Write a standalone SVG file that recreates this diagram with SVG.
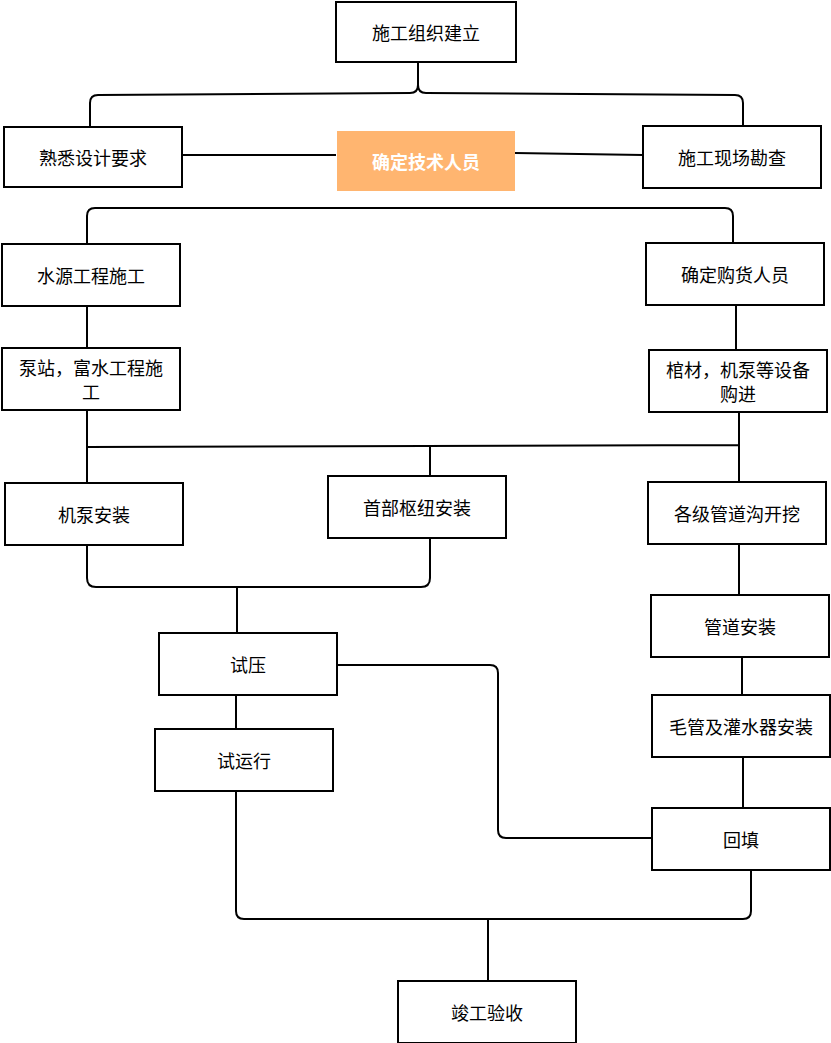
<svg xmlns="http://www.w3.org/2000/svg" width="831" height="1043" viewBox="0 0 831 1043">
<style>
.b{fill:#fff;stroke:#000;stroke-width:2}
.t{font-family:"Noto Sans CJK SC","Liberation Sans",sans-serif;font-size:18px;fill:#000;text-anchor:middle;dominant-baseline:central}
.c{fill:none;stroke:#000;stroke-width:2}
</style>
<rect width="831" height="1043" fill="#fff"/>
<g id="connectors">
<path class="c" d="M418 62 V85 Q418 93 410 93 L98 95 Q90 95 90 103 V127"/>
<path class="c" d="M418 85 Q418 93 426 93 L735 95 Q743 95 743 103 V126"/>
<path class="c" d="M182 155 H336"/>
<path class="c" d="M515 153 L643 155"/>
<path class="c" d="M87 244 V216 Q87 208 95 208 H725 Q733 208 733 216 V243"/>
<path class="c" d="M87 306 V348"/>
<path class="c" d="M736 305 V350"/>
<path class="c" d="M87 410 V483 M87 447 L739 445 M430 446 V476 M739 412 V482"/>
<path class="c" d="M87 545 V578 Q87 587 96 587 H421 Q430 587 430 578 V538"/>
<path class="c" d="M237 587 V633"/>
<path class="c" d="M236 695 V729"/>
<path class="c" d="M739 544 V595 M742 657 V695 M743 757 V808"/>
<path class="c" d="M337 665 H490 Q498 665 498 673 V830 Q498 838 506 838 H652"/>
<path class="c" d="M236 791 V911 Q236 919 244 919 H743 Q751 919 751 911 V870"/>
<path class="c" d="M488 920 V981"/>
</g>
<g id="n1"><rect class="b" x="336" y="2" width="180" height="60"/><text class="t" x="426" y="32">施工组织建立</text></g>
<g id="n2"><rect class="b" x="4" y="127" width="178" height="60"/><text class="t" x="93" y="157">熟悉设计要求</text></g>
<g id="n3"><rect x="337" y="131" width="178" height="60" fill="#FFB570"/><text class="t" x="426" y="161" style="fill:#fff;font-weight:bold">确定技术人员</text></g>
<g id="n4"><rect class="b" x="643" y="126" width="178" height="62"/><text class="t" x="732" y="157">施工现场勘查</text></g>
<g id="n5"><rect class="b" x="2" y="244" width="178" height="62"/><text class="t" x="91" y="275">水源工程施工</text></g>
<g id="n6"><rect class="b" x="646" y="243" width="178" height="62"/><text class="t" x="735" y="274">确定购货人员</text></g>
<g id="n7"><rect class="b" x="2" y="348" width="178" height="62"/><text class="t" x="91" y="367">泵站，富水工程施</text><text class="t" x="91" y="391">工</text></g>
<g id="n8"><rect class="b" x="649" y="350" width="178" height="62"/><text class="t" x="738" y="369">棺材，机泵等设备</text><text class="t" x="738" y="393">购进</text></g>
<g id="n9"><rect class="b" x="5" y="483" width="178" height="62"/><text class="t" x="94" y="514">机泵安装</text></g>
<g id="n10"><rect class="b" x="328" y="476" width="178" height="62"/><text class="t" x="417" y="507">首部枢纽安装</text></g>
<g id="n11"><rect class="b" x="648" y="482" width="178" height="62"/><text class="t" x="737" y="513">各级管道沟开挖</text></g>
<g id="n12"><rect class="b" x="651" y="595" width="178" height="62"/><text class="t" x="740" y="626">管道安装</text></g>
<g id="n13"><rect class="b" x="652" y="695" width="178" height="62"/><text class="t" x="741" y="726">毛管及灌水器安装</text></g>
<g id="n14"><rect class="b" x="159" y="633" width="178" height="62"/><text class="t" x="248" y="664">试压</text></g>
<g id="n15"><rect class="b" x="155" y="729" width="178" height="62"/><text class="t" x="244" y="760">试运行</text></g>
<g id="n16"><rect class="b" x="652" y="808" width="178" height="62"/><text class="t" x="741" y="839">回填</text></g>
<g id="n17"><rect class="b" x="398" y="981" width="178" height="62"/><text class="t" x="487" y="1012">竣工验收</text></g>
</svg>
